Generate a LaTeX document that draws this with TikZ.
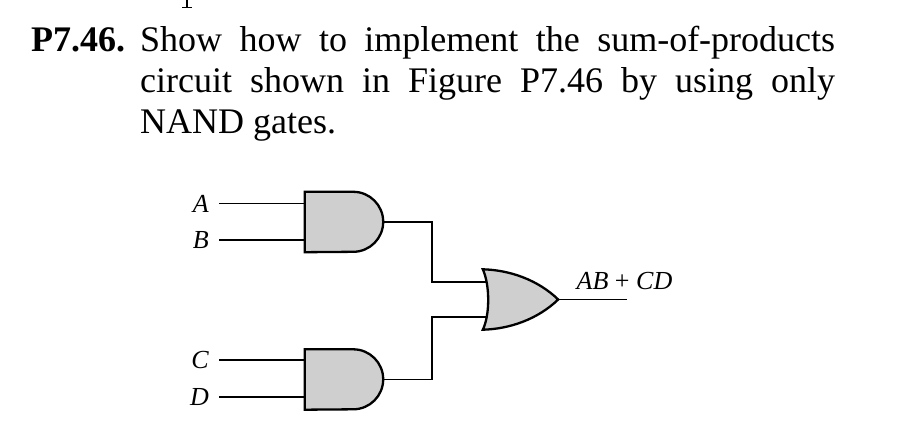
\documentclass[tikz,border=0pt]{standalone}
\usepackage{fontspec}
\setmainfont{Liberation Serif}
\usetikzlibrary{positioning}
\tikzset{
  gatebody/.style={draw, line width=2.3pt, fill=black!19, line join=miter},
  gatebox/.style={inner sep=0pt, minimum height=60pt},
  wire/.style={line width=1.3pt},
  pinlabel/.style={anchor=east, inner sep=0pt, inner xsep=10pt, font=\fontsize{26}{26}\selectfont\itshape},
  bodyline/.style={anchor=base west, inner sep=0pt, font=\fontsize{36}{41}\selectfont}
}
\newcommand{\andbody}[1]{
  \draw[gatebody] (#1.north west) -- ([xshift=-30pt]#1.north east)
    arc[start angle=90, end angle=-90, radius=30pt] -- (#1.south west) -- cycle;
}
\begin{document}
\begin{tikzpicture}[x=1pt,y=-1pt]
      \useasboundingbox (0,0) rectangle (906,434);
      % problem text
      \draw[line width=1.6pt] (187,0) -- (187,7);
      \draw[line width=1pt] (182,7.5) -- (192,7.5);
      \node[bodyline] (num) at (31,51) {\textbf{P7.46.}};
      \node[bodyline] (line1) at (140,51) {\makebox[695pt][s]{Show how to implement the sum-of-products}};
      \node[bodyline] (line2) at (140,92) {\makebox[695pt][s]{circuit shown in Figure P7.46 by using only}};
      \node[bodyline] (line3) at (140,133) {NAND gates.};
      % gates
      \node[gatebox, minimum width=78pt] (gateAB) at (344,222) {};
      \node[gatebox, minimum width=78pt] (gateCD) at (344,379.5) {};
      \node[gatebox, minimum width=75pt] (gateOr) at (520.5,299.5) {};
      % inputs
      \node[pinlabel] (labA) at (219,203.5) {A};
      \node[pinlabel] (labB) at (219,240) {B};
      \node[pinlabel] (labC) at (219,360) {C};
      \node[pinlabel] (labD) at (219,397) {D};
      \draw[wire] (labA.east) -- (labA.east -| gateAB.west);
      \draw[wire] (labB.east) -- (labB.east -| gateAB.west);
      \draw[wire] (labC.east) -- (labC.east -| gateCD.west);
      \draw[wire] (labD.east) -- (labD.east -| gateCD.west);
      % to the or gate
      \coordinate (bus) at (432,0);
      \coordinate (orIn1) at (492,282);
      \coordinate (orIn2) at (492,317);
      \draw[wire] (gateAB.east) -- (gateAB.east -| bus) -- (orIn1 -| bus) -- (orIn1);
      \draw[wire] (gateCD.east) -- (gateCD.east -| bus) -- (orIn2 -| bus) -- (orIn2);
      % output
      \coordinate (outEnd) at (gateOr.east -| 627,0);
      \draw[wire] (gateOr.east) -- (outEnd);
      \node[anchor=base, inner sep=0pt, font=\fontsize{26}{26}\selectfont] (labOut) at (624.5,289) {\textit{AB} + \textit{CD}};
      % bodies
      \andbody{gateAB}
      \andbody{gateCD}
      \draw[gatebody] (gateOr.north west) .. controls (510,270) and (538,280) .. (gateOr.east)
        .. controls (538,319) and (510,329) .. (gateOr.south west)
        .. controls (490,315) and (490,285) .. cycle;
\end{tikzpicture}
\end{document}
